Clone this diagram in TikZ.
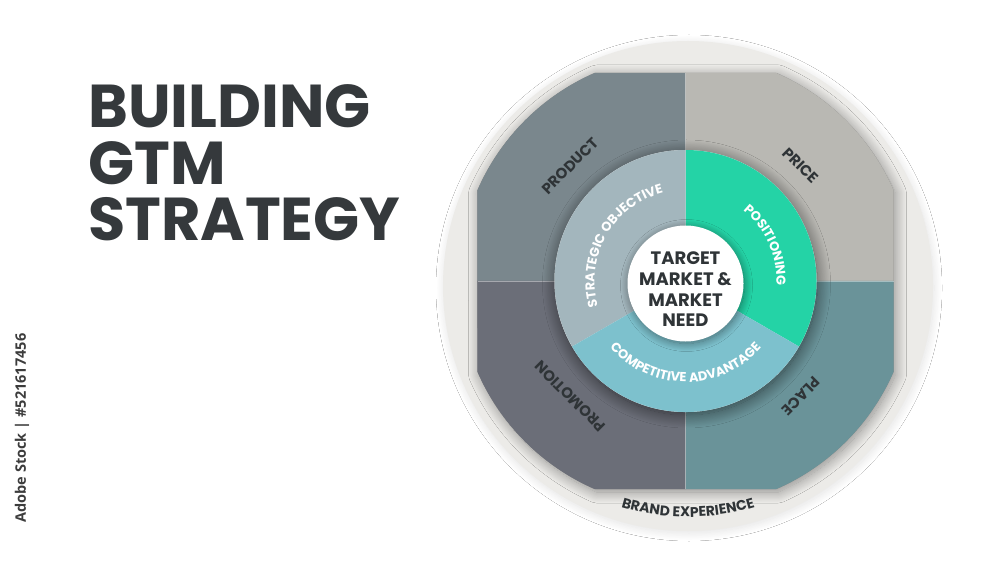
\documentclass[tikz,border=0pt]{standalone}
\usepackage{fontspec}
\setmainfont{Poppins}
\newfontfamily\osans{Open Sans}
\usetikzlibrary{calc,decorations.text,shadows.blur}
\definecolor{ringcol}{HTML}{ECEBE8}
\definecolor{prodcol}{HTML}{7A878D}
\definecolor{pricecol}{HTML}{B9B8B3}
\definecolor{promocol}{HTML}{6B6E78}
\definecolor{placecol}{HTML}{6A9399}
\definecolor{stratcol}{HTML}{A3B6BD}
\definecolor{poscol}{HTML}{24D3A6}
\definecolor{compcol}{HTML}{7DC1CD}
\definecolor{labelcol}{HTML}{2F3437}
\definecolor{titlecol}{HTML}{35393C}
\definecolor{markcol}{HTML}{3C3C3C}
\begin{document}
\begin{tikzpicture}[x=1pt,y=1pt,
  outlbl/.style={font=\bfseries\fontsize{15}{15}\selectfont, text=labelcol, inner sep=0pt},
  ttl/.style={font=\bfseries\fontsize{60.5}{60.5}\selectfont, text=titlecol, anchor=base west, inner sep=0pt},
  seam/.style={draw=white, draw opacity=0.4, line width=0.8pt},
  ringtxt/.style={decorate, decoration={text along path, text align=center, text color=white,
     text={|\bfseries\fontsize{13}{13}\selectfont|#1}}},
  brandtxt/.style={decorate, decoration={text along path, text align=center, text color=labelcol,
     text={|\bfseries\fontsize{14}{14}\selectfont|#1}}},
]
\useasboundingbox (0,0) rectangle (1000,563);
\fill[white] (0,0) rectangle (1000,563);
\coordinate (C) at (685.5,282);
\coordinate (RC) at (688,277);
\coordinate (IC) at (685.5,279.5);

% outer ring
\fill[ringcol, blur shadow={shadow xshift=1pt, shadow yshift=-2pt, shadow blur radius=8pt, shadow opacity=12, shadow blur steps=20}] (RC) circle[radius=245];

% shadow of the four quadrants
\path[fill=gray, blur shadow={shadow xshift=2pt, shadow yshift=-3pt, shadow blur radius=11pt, shadow opacity=40, shadow blur steps=20}]
  ($(C)+(90.9,208)$) -- ($(C)+(-90.9,208)$) arc[start angle=113.6,end angle=156.4,radius=227]
  -- ($(C)+(-208,-90.9)$) arc[start angle=203.6,end angle=246.4,radius=227]
  -- ($(C)+(90.9,-208)$) arc[start angle=293.6,end angle=336.4,radius=227]
  -- ($(C)+(208,90.9)$) arc[start angle=23.6,end angle=66.4,radius=227] -- cycle;

% quadrants
\fill[prodcol] (C) -- ++(0,208) -- ++(-90.9,0) arc[start angle=113.6,end angle=156.4,radius=227] -- ++(0,-90.9) -- cycle;
\fill[pricecol] (C) -- ++(0,208) -- ++(90.9,0) arc[start angle=66.4,end angle=23.6,radius=227] -- ++(0,-90.9) -- cycle;
\fill[promocol] (C) -- ++(0,-208) -- ++(-90.9,0) arc[start angle=246.4,end angle=203.6,radius=227] -- ++(0,90.9) -- cycle;
\fill[placecol] (C) -- ++(0,-208) -- ++(90.9,0) arc[start angle=293.6,end angle=336.4,radius=227] -- ++(0,90.9) -- cycle;
\draw[seam] ($(C)+(0,208)$) -- ($(C)+(0,-208)$);
\draw[seam] ($(C)+(-208,0)$) -- ($(C)+(208,0)$);

% outer labels
\node[outlbl, rotate=45] (prod) at ($(C)+(135:163)$) {PRODUCT};
\node[outlbl, rotate=-45] (price) at ($(C)+(45:163)$) {PRICE};
\node[outlbl, rotate=135] (promo) at ($(C)+(225:163)$) {PROMOTION};
\node[outlbl, rotate=225] (place) at ($(C)+(315:163)$) {PLACE};

% middle ring
\fill[white, blur shadow={shadow xshift=1pt, shadow yshift=-3pt, shadow blur radius=13pt, shadow opacity=55, shadow blur steps=20}] (C) circle[radius=131];
\fill[poscol] (C) -- ++(90:131) arc[start angle=90,end angle=-30,radius=131] -- cycle;
\fill[stratcol] (C) -- ++(90:131) arc[start angle=90,end angle=210,radius=131] -- cycle;
\fill[compcol] (C) -- ++(210:131) arc[start angle=210,end angle=330,radius=131] -- cycle;

% ring texts
\path[ringtxt={STRATEGIC OBJECTIVE}] ($(C)+(215:91)$) arc[start angle=215,end angle=85,radius=91];
\path[ringtxt={POSITIONING}] ($(C)+(85:91)$) arc[start angle=85,end angle=-37,radius=91];
\path[ringtxt={COMPETITIVE ADVANTAGE}] ($(C)+(205:101)$) arc[start angle=205,end angle=335,radius=101];

% inner circle
\fill[white, blur shadow={shadow xshift=1pt, shadow yshift=-2pt, shadow blur radius=8pt, shadow opacity=45, shadow blur steps=20}] (IC) circle[radius=58];
\node[font=\bfseries\fontsize{18}{20.7}\selectfont, text=labelcol, align=center, inner sep=0pt] (center) at (685.5,273.5) {TARGET\\MARKET \&\\MARKET\\NEED};

% brand experience
\path[brandtxt={BRAND EXPERIENCE}] ($(RC)+(235:231)$) arc[start angle=235,end angle=305,radius=231];

% title
\node[ttl] (t1) at (88,435) {BUILDING};
\node[ttl] (t2) at (88,378) {GTM};
\node[ttl] (t3) at (88,323) {STRATEGY};

% vertical id
\node[font=\osans\bfseries\fontsize{14.5}{14.5}\selectfont, text=markcol, rotate=90, inner sep=0pt] (stockid) at (22,135) {Adobe Stock | \#521617456};
\end{tikzpicture}
\end{document}
